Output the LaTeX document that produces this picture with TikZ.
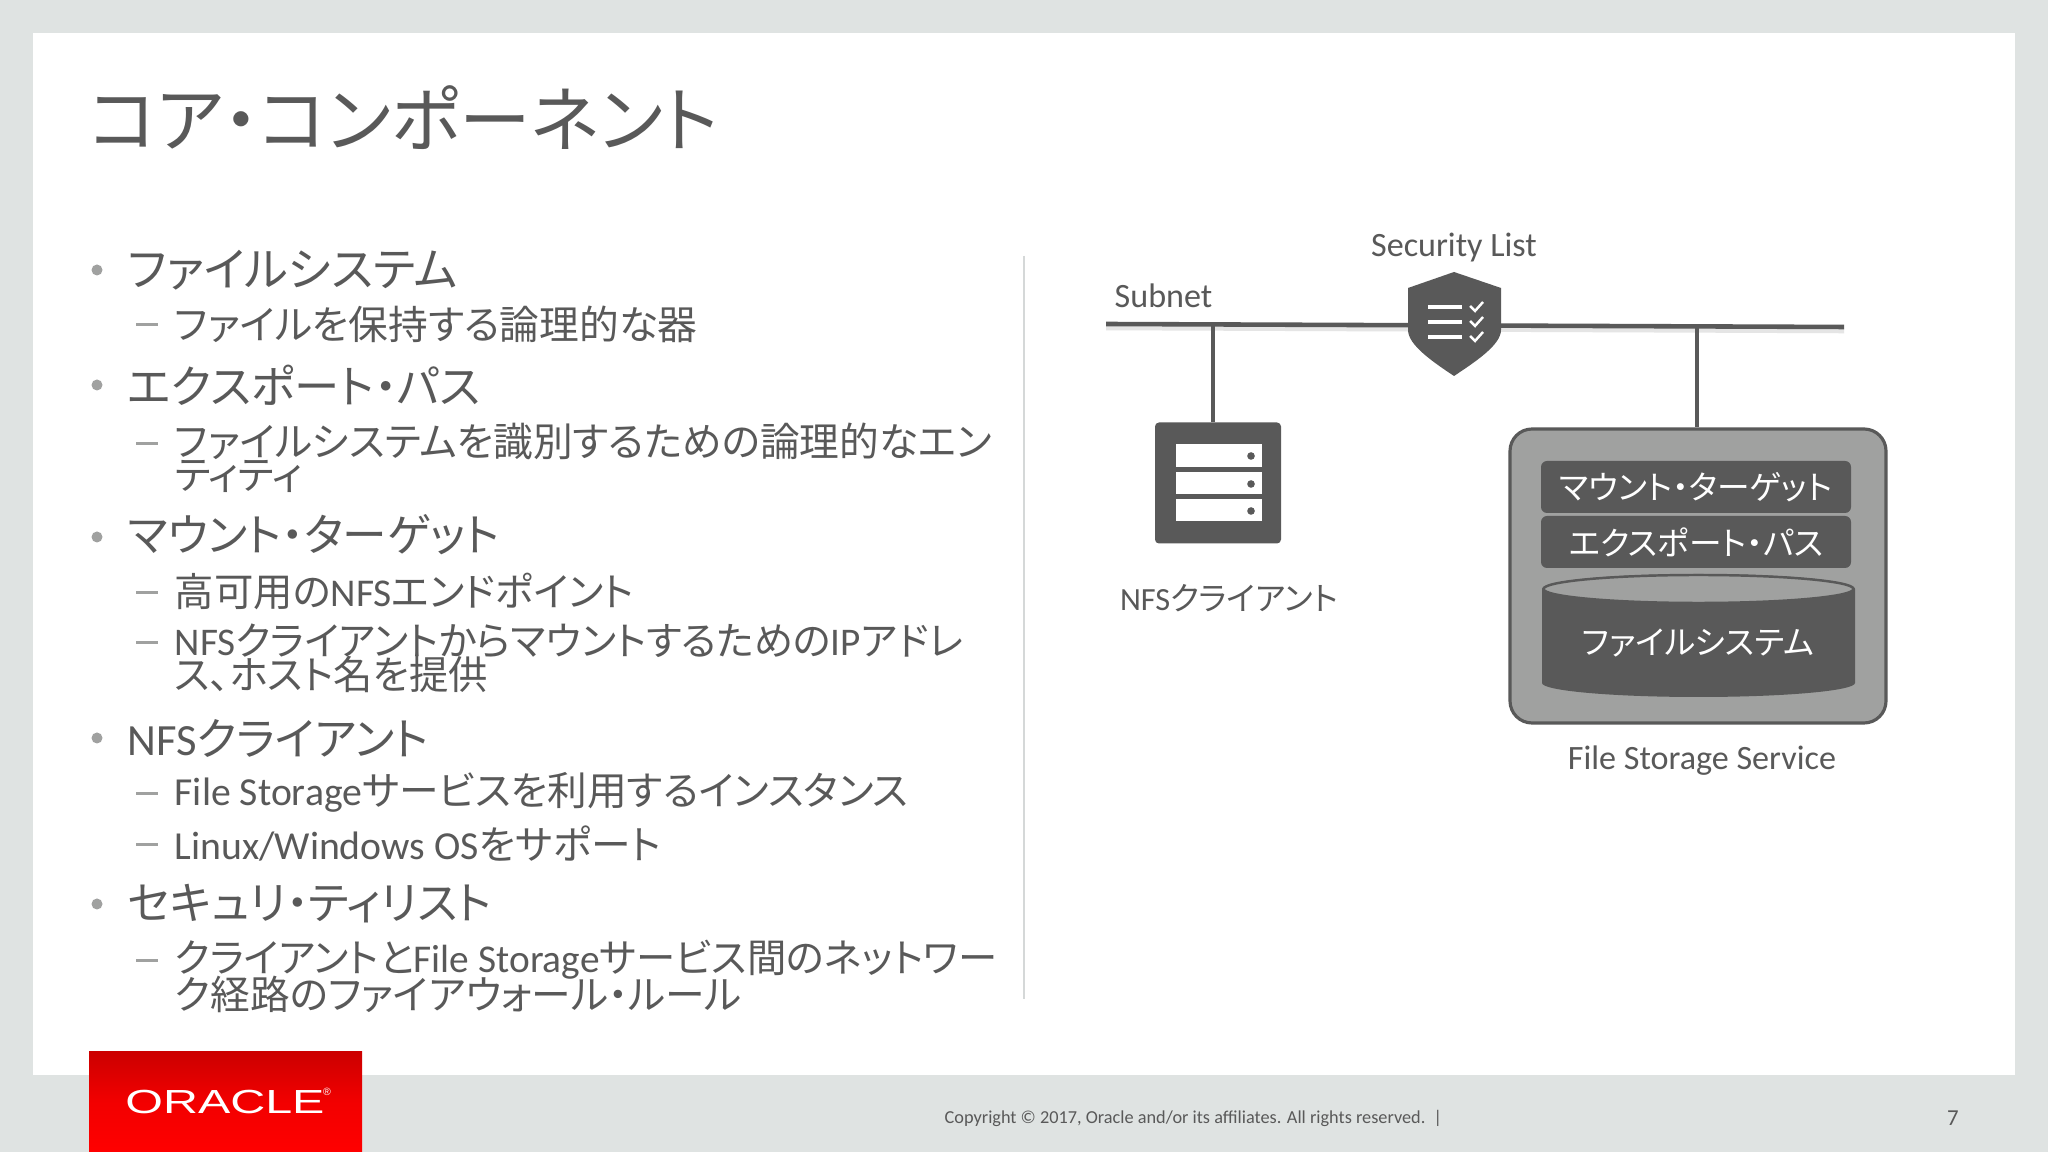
\documentclass[tikz,border=0pt]{standalone}
\usepackage{fontspec}
\usepackage{xcolor}
\usepackage{tikz}
\setmainfont{Carlito}
\newfontfamily\cjk[RawFeature=+palt]{Noto Sans CJK JP}
\newfontfamily\logofont{Liberation Sans}
\newcommand{\jp}[1]{{\cjk #1}}
\definecolor{slidebg}{HTML}{DFE3E2}
\definecolor{inkgray}{HTML}{595959}
\definecolor{boxgray}{HTML}{A0A1A0}
\definecolor{rulegray}{HTML}{D5D8D8}
\tikzset{
    titletext/.style={anchor=west,inner sep=0pt,text=inkgray,font=\fontsize{20.4}{24}\selectfont},
    headtext/.style={anchor=west,inner sep=0pt,text=inkgray,font=\fontsize{12.7}{15}\selectfont},
    subtext/.style={anchor=west,inner sep=0pt,text=inkgray,font=\fontsize{11.2}{13}\selectfont},
    labeltext/.style={inner sep=0pt,text=inkgray,font=\fontsize{9.7}{11}\selectfont},
    boxtext/.style={inner sep=0pt,text=white,font=\fontsize{9.3}{11}\selectfont},
    footertext/.style={inner sep=0pt,text=inkgray,font=\fontsize{5.2}{7}\selectfont},
    layerbox/.style={fill=inkgray,rounded corners=0.6mm,minimum width=31mm,minimum height=5.2mm,inner sep=0pt},
    wire/.style={draw=inkgray,line width=1.3pt},
}
\begin{document}
\begin{tikzpicture}[x=0.1mm,y=-0.1mm]
    % Slide background
    \fill[slidebg] (0,0) rectangle (2048,1152);
    \fill[white] (33,33) rectangle (2015,1075);
    \useasboundingbox (0,0) rectangle (2048,1152);

    % Title
    \node[titletext] (title) at (88,118) {\jp{コア・コンポーネント}};

    % Bullets and dashes
    \foreach \y in {270,385,537,738,904}
        \fill[boxgray] (97,\y) circle (5.5);
    \foreach \y in {325,444,593,643,794,845,961}
        \fill[boxgray] (136,\y-1.5) rectangle (158,\y+1.5);

    % Left column
    \node[headtext,font=\fontsize{13.2}{15}\selectfont] (fs) at (127,270) {\jp{ファイルシステム}};
    \node[subtext,font=\fontsize{11.3}{13}\selectfont] (fsa) at (174,324) {\jp{ファイルを保持する論理的な器}};
    \node[headtext,font=\fontsize{12.9}{15}\selectfont] (ex) at (127,385) {\jp{エクスポート・パス}};
    \node[subtext,font=\fontsize{11.3}{13}\selectfont] (exa) at (174,441) {\jp{ファイルシステムを識別するための論理的なエン}};
    \node[subtext] (exb) at (174,476) {\jp{ティティ}};
    \node[headtext] (mt) at (127,535) {\jp{マウント・ターゲット}};
    \node[subtext] (mta) at (174,591) {\jp{高可用の}NFS\jp{エンドポイント}};
    \node[subtext,font=\fontsize{11.15}{13}\selectfont] (mtb) at (174,641) {NFS\jp{クライアントからマウントするための}IP\jp{アドレ}};
    \node[subtext] (mtc) at (174,675) {\jp{ス、ホスト名を提供}};
    \node[headtext] (cl) at (127,738) {NFS\jp{クライアント}};
    \node[subtext,font=\fontsize{11.3}{13}\selectfont] (cla) at (174,792) {File Storage\jp{サービスを利用するインスタンス}};
    \node[subtext,font=\fontsize{11.3}{13}\selectfont] (clb) at (174,844) {Linux/Windows OS\jp{をサポート}};
    \node[headtext] (sl) at (127,904) {\jp{セキュリ・ティリスト}};
    \node[subtext] (sla) at (174,960) {\jp{クライアントと}File Storage\jp{サービス間のネットワー}};
    \node[subtext,font=\fontsize{11.3}{13}\selectfont] (slb) at (174,994) {\jp{ク経路のファイアウォール・ルール}};

    % Divider
    \draw[rulegray,line width=0.7pt] (1024,256) -- (1024,999);

    % Subnet line
    \coordinate (subnetL) at (1106,324);
    \coordinate (subnetR) at (1844,327);
    \draw[black!10,line width=1.3pt] ([yshift=-0.4mm]subnetL) -- ([yshift=-0.4mm]subnetR);
    \draw[inkgray,line width=1.3pt] (subnetL) -- (subnetR);
    \node[labeltext,anchor=west] (subnet) at (1114,296) {Subnet};

    % NFS client
    \node[fill=inkgray,rounded corners=0.4mm,minimum width=12.6mm,minimum height=12.1mm,inner sep=0pt] (nfs) at (1218,483) {};
    \foreach \ya/\yb in {444/467,472/494,499/521}
        \fill[white] (1176,\ya) rectangle (1262,\yb);
    \foreach \y in {456,484,511}
        \fill[inkgray] (1251,\y) circle (3.8);
    \node[labeltext,font=\fontsize{9.2}{11}\selectfont] (nfslabel) at (1229,598) {NFS\jp{クライアント}};
    \coordinate (tapA) at (1213,324);
    \draw[wire] (tapA) -- (tapA |- nfs.north);

    % File Storage Service
    \node[draw=inkgray,fill=boxgray,line width=0.9pt,rounded corners=2.2mm,minimum width=37.6mm,minimum height=29.4mm,inner sep=0pt] (fss) at (1698,576) {};
    \coordinate (tapB) at (1697,327);
    \draw[wire] (tapB) -- (tapB |- fss.north);
    \node[layerbox] (mount) at (1696,487) {};
    \node[boxtext] at (mount.center) (mountlabel) {\jp{マウント・ターゲット}};
    \node[layerbox] (export) at (1696,542) {};
    \node[boxtext] at (export.center) (exportlabel) {\jp{エクスポート・パス}};

    % Cylinder
    \fill[inkgray] (1542,589) -- (1542,683) arc[start angle=180,end angle=0,x radius=156.5,y radius=14] -- (1855,589) arc[start angle=0,end angle=-180,x radius=156.5,y radius=15] -- cycle;
    \draw[inkgray,fill=boxgray,line width=0.7pt] (1698.5,589) ellipse[x radius=155,y radius=14];
    \node[boxtext] (fslabel) at (1698,643) {\jp{ファイルシステム}};
    \node[labeltext] (fsslabel) at (1702,761) {File Storage Service};

    % Shield
    \fill[inkgray] (1454,272) -- (1501,288) -- (1501,330) .. controls (1501,345) and (1475,362) .. (1454,376) .. controls (1433,362) and (1408,345) .. (1408,330) -- (1408,288) -- cycle;
    \foreach \y in {307,322,337}{
        \fill[white] (1428,\y-2) rectangle (1462,\y+2);
        \draw[white,line width=0.7pt] (1470,\y-1) -- (1475,\y+4) -- (1483,\y-5);
    }
    \node[labeltext] (seclist) at (1454,248) {Security List};

    % Logo
    \shade[top color=red!80!black,bottom color=red,middle color=red!95!black] (89,1052) rectangle (362,1152);
    \node[inner sep=0pt,text=white] (oracle) at (225,1102) {\logofont\scalebox{1.45}[1]{\fontsize{9.5}{11}\selectfont ORACLE}};
    \node[inner sep=0pt,text=white,font=\logofont\fontsize{3}{3}\selectfont] (oraclereg) at (327,1092) {®};

    % Footer
    \node[footertext,anchor=west] (copyright) at (944,1118) {Copyright © 2017, Oracle and/or its affiliates. All rights reserved.~~|};
    \node[inner sep=0pt,text=inkgray,font=\fontsize{6.5}{8}\selectfont] (pagenum) at (1953,1118) {7};
\end{tikzpicture}
\end{document}
